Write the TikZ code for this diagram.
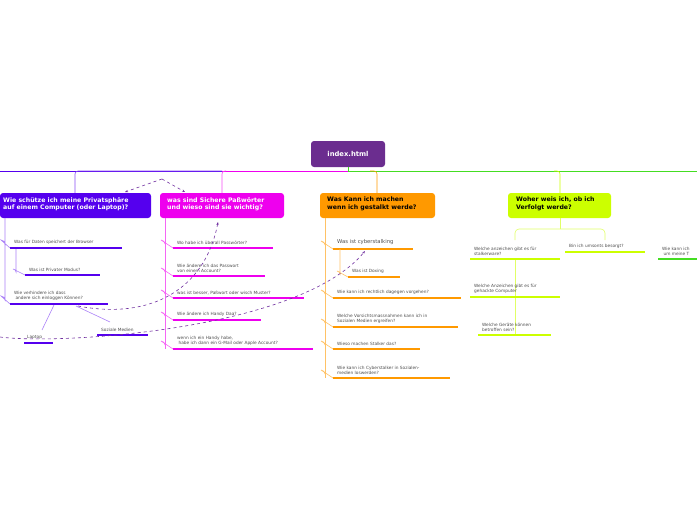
\documentclass[tikz,border=0pt]{standalone}
\usepackage{fontspec}
\setmainfont{DejaVu Sans}
\usetikzlibrary{arrows.meta}
\definecolor{cRoot}{HTML}{6B2D8F}
\definecolor{cBlue}{HTML}{5500EE}
\definecolor{cMag}{HTML}{EE00EE}
\definecolor{cOr}{HTML}{FF9900}
\definecolor{cYel}{HTML}{CCFF00}
\definecolor{cGr}{HTML}{44DD22}
\definecolor{cDash}{HTML}{7030A0}
\begin{document}
\begin{tikzpicture}[x=1pt,y=-1pt,
  topic/.style={rounded corners=3pt,inner sep=0pt,anchor=north west,font=\fontsize{6.2}{7.5}\selectfont\bfseries,align=left},
  item/.style={anchor=south west,font=\fontsize{4.3}{5.5}\selectfont,text=black!70,align=left,inner sep=1pt},
  uline/.style={line width=1.8pt},
  spine/.style={line width=0.6pt},
  dsh/.style={cDash,dashed,line width=0.6pt}]
\useasboundingbox (0,0) rectangle (697,520);
% root
\node[fill=cRoot,rounded corners=3pt,minimum width=74pt,minimum height=26pt,text=white,font=\fontsize{6.8}{8}\selectfont\bfseries] (root) at (348,154) {index.html};
% main line
\draw[cBlue,spine] (0,171) -- (222,171);
\draw[cMag,spine] (222,171) -- (348,171);
\draw[cGr,spine] (348,171) -- (697,171);
\draw[cGr,spine] (root.south) -- (348,171);
\draw[cBlue!70,spine] (75,193) -- (75,174) arc(180:270:3) -- (222,171);
\draw[cMag!70,spine] (222,193) -- (222,174) arc(180:270:3) -- (226,171);
\draw[cOr,spine] (377,193) -- (377,174) arc(0:-90:3) -- (370,171);
\draw[cYel,spine] (560,193) -- (560,174) arc(0:-90:3) -- (554,171);
% topics
\path[fill=cBlue,rounded corners=3pt] (0,193) rectangle (151,218);
\node[topic,text=white] (t1) at (3,197) {Wie schütze ich meine Privatsphäre\\auf einem Computer (oder Laptop)?};
\path[fill=cMag,rounded corners=3pt] (160,193) rectangle (284,218);
\node[topic,text=white] (t2) at (167,197) {was sind Sichere Paßwörter\\und wieso sind sie wichtig?};
\path[fill=cOr,rounded corners=3pt] (320,193) rectangle (435,218);
\node[topic,text=black] (t3) at (327,197) {Was Kann ich machen\\wenn ich gestalkt werde?};
\path[fill=cYel,rounded corners=3pt] (508,193) rectangle (611,218);
\node[topic,text=black] (t4) at (516,197) {Woher weis ich, ob ich\\Verfolgt werde?};
% branch 1
\draw[cBlue!50,spine] (5,218) -- (5,244) arc(180:90:-4) -- (10,248);
\draw[cBlue!50,spine] (5,244) -- (5,300) arc(180:90:-4) -- (10,304);
\draw[cBlue!50,spine] (16,248) -- (16,272) arc(180:90:-3) -- (25,275);
\node[item] (a1) at (13,246) {Was für Daten speichert der Browser};
\draw[cBlue,uline] (10,248) -- (122,248);
\node[item] (a2) at (28,273) {Was ist Privater Modus?};
\draw[cBlue,uline] (25,275) -- (100,275);
\node[item] (a3) at (13,302) {Wie verhindere ich dass\\\ andere sich einloggen Können?};
\draw[cBlue,uline] (10,304) -- (108,304);
\node[item] (a4) at (26,341) {Laptop};
\draw[cBlue,uline] (24,343) -- (53,343);
\node[item] (a5) at (100,333) {Soziale Medien};
\draw[cBlue,uline] (97,335) -- (148,335);
\draw[cBlue!50,spine] (54,305) -- (42,330);
\draw[cBlue!50,spine] (110,322) -- (76,306);
% branch 2
\draw[cMag!60,spine] (165,218) -- (165,349);
\foreach \y/\l in {248/273,276/265,298/304,320/261,349/313}{\draw[cMag,uline] (173,\y) -- (\l,\y); \draw[cMag!60,spine] (165,\y-4) arc(180:90:-4) -- (173,\y);}
\node[item] (b1) at (176,246) {Wo habe ich überall Passwörter?};
\node[item] (b2) at (176,274) {Wie ändere ich das Passwort\\von einem Account?};
\node[item] (b3) at (176,296) {was ist besser, Paßwort oder wisch Muster?};
\node[item] (b4) at (176,318) {Wie ändere ich Handy Daa?};
\node[item] (b5) at (176,347) {wenn ich ein Handy habe,\\\ habe ich dann ein G-Mail oder Apple Account?};
% branch 3
\draw[cOr!60,spine] (325,218) -- (325,378);
\foreach \y/\l in {249/413,298/461,327/458,349/420,378/450}{\draw[cOr,uline] (333,\y) -- (\l,\y); \draw[cOr!60,spine] (325,\y-4) arc(180:90:-4) -- (333,\y);}
\draw[cOr,uline] (348,277) -- (400,277);
\draw[cOr!60,spine] (340,249) -- (340,274) arc(180:90:-3) -- (348,277);
\node[item,font=\fontsize{5.3}{6.5}\selectfont] (c1) at (336,246) {Was ist cyberstalking};
\node[item] (c2) at (351,275) {Was ist Doxing};
\node[item] (c3) at (336,296) {Wie kann ich rechtlich dagegen vorgehen?};
\node[item] (c4) at (336,325) {Welche Vorsichtsmassnahmen kann ich in\\Sozialen Medien ergreifen?};
\node[item] (c5) at (336,347) {Wieso machen Stalker das?};
\node[item] (c6) at (336,376) {Wie kann ich Cyberstalker in Sozialen-\\medien loswerden?};
% branch 4
\draw[cYel!60,spine] (560,218) -- (560,229);
\draw[cYel!60,spine] (515,240) -- (515,233) arc(180:270:4) -- (601,229) arc(-90:0:4) -- (605,240);
\draw[cYel!60,spine] (515,259) -- (515,335);
\draw[cYel,uline] (470,259) -- (560,259);
\draw[cYel,uline] (565,252) -- (645,252);
\draw[cYel,uline] (470,297) -- (560,297);
\draw[cYel,uline] (478,335) -- (551,335);
\draw[cGr,uline] (658,259) -- (697,259);
\node[item] (d1) at (473,257) {Welche anzeichen gibt es für\\stalkerware?};
\node[item] (d2) at (568,250) {Bin ich umsonts besorgt?};
\node[item] (d3) at (473,295) {Welche Anzeichen gibt es für\\gehackte Computer};
\node[item] (d4) at (481,333) {Welche Geräte können\\betroffen sein?};
\node[item] (d5) at (661,257) {Wie kann ich\\\ um meine T};
% dashed relations
\coordinate (p1) at (125,192);
\coordinate (p2) at (185,192);
\draw[dsh,-{Stealth[length=3pt]}] (162,179) -- (p1);
\draw[dsh,-{Stealth[length=3pt]}] (162,179) -- (p2);
\coordinate (q1) at (78,306);
\draw[dsh,-{Stealth[length=3pt]}] (q1) .. controls (150,320) and (205,290) .. (218,222);
\coordinate (r0) at (0,337);
\draw[dsh,-{Stealth[length=3pt]}] (r0) .. controls (60,345) and (300,330) .. (365,251);
\end{tikzpicture}
\end{document}
